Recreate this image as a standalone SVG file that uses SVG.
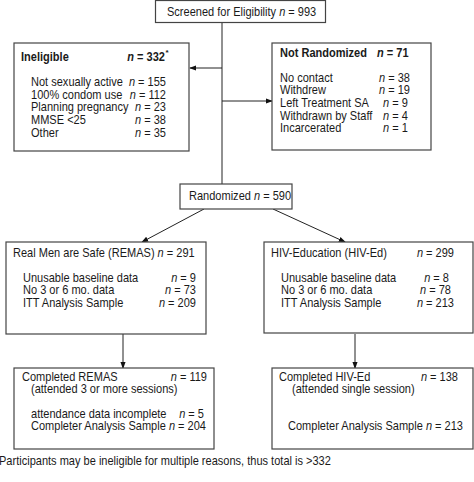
<svg xmlns="http://www.w3.org/2000/svg" width="474" height="482" viewBox="0 0 474 482">
<defs>
<style>
text{font-family:"Liberation Sans",Arial,sans-serif;font-size:12px;fill:#1a1a1a}
.b{font-weight:bold}
.i{font-style:italic}
.e{text-anchor:end}
rect{fill:#fff;stroke:#444;stroke-width:1.2}
.c line{stroke:#222;stroke-width:1}
</style>
<marker id="ah" viewBox="0 0 8 8" refX="7" refY="4" markerWidth="7" markerHeight="7" orient="auto" markerUnits="userSpaceOnUse">
<path d="M0,1 L8,4 L0,7 z" fill="#111"/>
</marker>
</defs>
<rect width="474" height="482" style="fill:#fff;stroke:none"/>
<g class="c" id="connectors">
<line x1="222" y1="22" x2="222" y2="184"/>
<line x1="222" y1="68" x2="190" y2="68" marker-end="url(#ah)"/>
<line x1="222" y1="101" x2="272" y2="101" marker-end="url(#ah)"/>
<line x1="204" y1="209" x2="142" y2="242" marker-end="url(#ah)"/>
<line x1="273" y1="209" x2="345" y2="242" marker-end="url(#ah)"/>
<line x1="123" y1="334" x2="123" y2="368" marker-end="url(#ah)"/>
<line x1="355" y1="334" x2="355" y2="368" marker-end="url(#ah)"/>
</g>
<g id="screened">
<rect x="155.5" y="0.5" width="170" height="22"/>
<text x="167" y="16" transform="matrix(.92 0 0 1 13.36 0)">Screened for Eligibility <tspan class="i">n</tspan> = 993</text>
</g>
<g id="ineligible">
<rect x="14" y="43" width="175" height="108"/>
<text x="21" y="61" class="b" transform="matrix(.92 0 0 1 1.68 0)">Ineligible</text>
<text x="165" y="61" class="b e" transform="matrix(.92 0 0 1 13.2 0)"><tspan class="i">n</tspan> = 332</text>
<text x="165.5" y="55" class="b" style="font-size:8px">*</text>
<text x="31" y="86.5" transform="matrix(.92 0 0 1 2.48 0)">Not sexually active</text><text x="166" y="86.5" class="e" transform="matrix(.92 0 0 1 13.28 0)"><tspan class="i">n</tspan> = 155</text>
<text x="31" y="99" transform="matrix(.92 0 0 1 2.48 0)">100% condom use</text><text x="166" y="99" class="e" transform="matrix(.92 0 0 1 13.28 0)"><tspan class="i">n</tspan> = 112</text>
<text x="31" y="111.5" transform="matrix(.92 0 0 1 2.48 0)">Planning pregnancy</text><text x="166" y="111.5" class="e" transform="matrix(.92 0 0 1 13.28 0)"><tspan class="i">n</tspan> = 23</text>
<text x="31" y="124.5" transform="matrix(.92 0 0 1 2.48 0)">MMSE &lt;25</text><text x="166" y="124.5" class="e" transform="matrix(.92 0 0 1 13.28 0)"><tspan class="i">n</tspan> = 38</text>
<text x="31" y="137" transform="matrix(.92 0 0 1 2.48 0)">Other</text><text x="166" y="137" class="e" transform="matrix(.92 0 0 1 13.28 0)"><tspan class="i">n</tspan> = 35</text>
</g>
<g id="notrandomized">
<rect x="272" y="43" width="159" height="107"/>
<text x="280" y="57" class="b" transform="matrix(.92 0 0 1 22.4 0)">Not Randomized</text>
<text x="377" y="57" class="b" transform="matrix(.92 0 0 1 30.16 0)"><tspan class="i">n</tspan> = 71</text>
<text x="280" y="82" transform="matrix(.92 0 0 1 22.4 0)">No contact</text><text x="379" y="82" transform="matrix(.92 0 0 1 30.32 0)"><tspan class="i">n</tspan> = 38</text>
<text x="280" y="94.5" transform="matrix(.92 0 0 1 22.4 0)">Withdrew</text><text x="379" y="94.5" transform="matrix(.92 0 0 1 30.32 0)"><tspan class="i">n</tspan> = 19</text>
<text x="280" y="107" transform="matrix(.92 0 0 1 22.4 0)">Left Treatment SA</text><text x="383" y="107" transform="matrix(.92 0 0 1 30.64 0)"><tspan class="i">n</tspan> = 9</text>
<text x="280" y="120" transform="matrix(.92 0 0 1 22.4 0)">Withdrawn by Staff</text><text x="383" y="120" transform="matrix(.92 0 0 1 30.64 0)"><tspan class="i">n</tspan> = 4</text>
<text x="280" y="132.5" transform="matrix(.92 0 0 1 22.4 0)">Incarcerated</text><text x="383" y="132.5" transform="matrix(.92 0 0 1 30.64 0)"><tspan class="i">n</tspan> = 1</text>
</g>
<g id="randomized">
<rect x="180" y="184" width="112" height="25"/>
<text x="189" y="200.5" transform="matrix(.92 0 0 1 15.12 0)">Randomized <tspan class="i">n</tspan> = 590</text>
</g>
<g id="remas">
<rect x="6" y="242" width="200" height="92"/>
<text x="13" y="257" transform="matrix(.92 0 0 1 1.04 0)">Real Men are Safe (REMAS) <tspan class="i">n</tspan> = 291</text>
<text x="23" y="282" transform="matrix(.92 0 0 1 1.84 0)">Unusable baseline data</text><text x="196" y="282" class="e" transform="matrix(.92 0 0 1 15.68 0)"><tspan class="i">n</tspan> = 9</text>
<text x="23" y="294.5" transform="matrix(.92 0 0 1 1.84 0)">No 3 or 6 mo. data</text><text x="196" y="294.5" class="e" transform="matrix(.92 0 0 1 15.68 0)"><tspan class="i">n</tspan> = 73</text>
<text x="23" y="307" transform="matrix(.92 0 0 1 1.84 0)">ITT Analysis Sample</text><text x="196" y="307" class="e" transform="matrix(.92 0 0 1 15.68 0)"><tspan class="i">n</tspan> = 209</text>
</g>
<g id="hived">
<rect x="264" y="242" width="209" height="91"/>
<text x="271" y="257" transform="matrix(.92 0 0 1 21.68 0)">HIV-Education (HIV-Ed)</text><text x="454" y="257" class="e" transform="matrix(.92 0 0 1 36.32 0)"><tspan class="i">n</tspan> = 299</text>
<text x="281" y="282" transform="matrix(.92 0 0 1 22.48 0)">Unusable baseline data</text><text x="449" y="282" class="e" transform="matrix(.92 0 0 1 35.92 0)"><tspan class="i">n</tspan> = 8</text>
<text x="281" y="294.5" transform="matrix(.92 0 0 1 22.48 0)">No 3 or 6 mo. data</text><text x="451" y="294.5" class="e" transform="matrix(.92 0 0 1 36.08 0)"><tspan class="i">n</tspan> = 78</text>
<text x="281" y="307" transform="matrix(.92 0 0 1 22.48 0)">ITT Analysis Sample</text><text x="454" y="307" class="e" transform="matrix(.92 0 0 1 36.32 0)"><tspan class="i">n</tspan> = 213</text>
</g>
<g id="completedremas">
<rect x="14" y="368" width="200" height="81"/>
<text x="22" y="381" transform="matrix(.92 0 0 1 1.76 0)">Completed REMAS</text><text x="207" y="381" class="e" transform="matrix(.92 0 0 1 16.56 0)"><tspan class="i">n</tspan> = 119</text>
<text x="31" y="393" transform="matrix(.92 0 0 1 2.48 0)">(attended 3 or more sessions)</text>
<text x="31" y="418" transform="matrix(.92 0 0 1 2.48 0)">attendance data incomplete</text><text x="204" y="418" class="e" transform="matrix(.92 0 0 1 16.32 0)"><tspan class="i">n</tspan> = 5</text>
<text x="31" y="430" transform="matrix(.92 0 0 1 2.48 0)">Completer Analysis Sample <tspan class="i">n</tspan> = 204</text>
</g>
<g id="completedhived">
<rect x="272" y="368" width="201" height="81"/>
<text x="279" y="381" transform="matrix(.92 0 0 1 22.32 0)">Completed HIV-Ed</text><text x="458" y="381" class="e" transform="matrix(.92 0 0 1 36.64 0)"><tspan class="i">n</tspan> = 138</text>
<text x="292" y="393" transform="matrix(.92 0 0 1 23.36 0)">(attended single session)</text>
<text x="288" y="430" transform="matrix(.92 0 0 1 23.04 0)">Completer Analysis Sample <tspan class="i">n</tspan> = 213</text>
</g>
<text x="-1" y="465" transform="matrix(.92 0 0 1 -0.08 0)">Participants may be ineligible for multiple reasons, thus total is &gt;332</text>
</svg>
